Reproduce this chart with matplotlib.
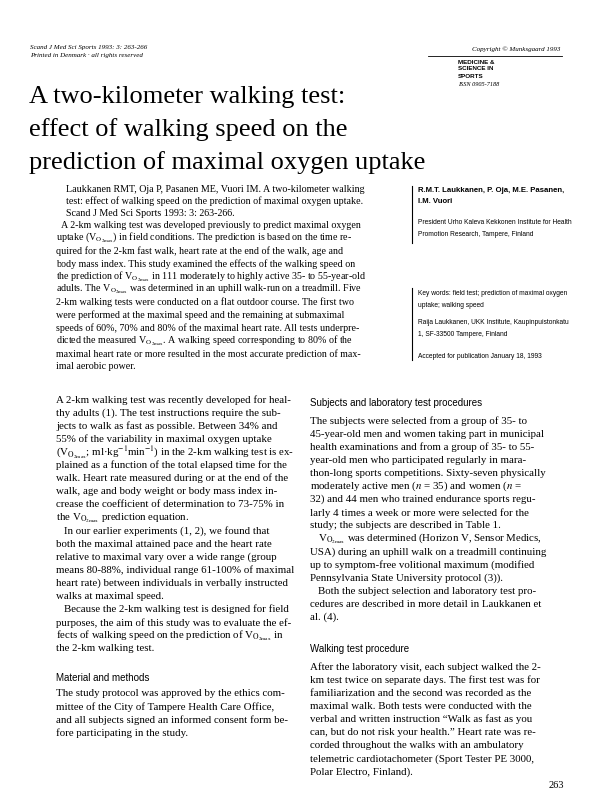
import matplotlib
matplotlib.use("Agg")
import matplotlib.pyplot as plt
from matplotlib.lines import Line2D

plt.rcParams['mathtext.fontset'] = 'stix'
W, H = 594, 792
fig = plt.figure(figsize=(W/100, H/100), dpi=100)
fig.patch.set_facecolor('white')

SERIF = 'Liberation Serif'
SANS = 'Liberation Sans'
V = r'V$_{\mathrm{O_{2max}}}$'

def put(x, y, s, size=7.6, family=SERIF, **kw):
    fig.text(x/W, 1 - y/H, s, fontsize=size, family=family, va='center', ha=kw.pop('ha', 'left'), **kw)

def vline(x, y0, y1, lw=0.8):
    fig.add_artist(Line2D([x/W, x/W], [1-y0/H, 1-y1/H], color='black', lw=lw))

def hline(x0, x1, y, lw=0.8):
    fig.add_artist(Line2D([x0/W, x1/W], [1-y/H, 1-y/H], color='black', lw=lw))

# header
put(30, 47, 'Scand J Med Sci Sports 1993: 3: 263-266', 5, style='italic')
put(30, 55, 'Printed in Denmark · all rights reserved', 5, style='italic')
put(560, 49, 'Copyright © Munksgaard 1993', 5, style='italic', ha='right')
hline(428, 562, 56, 0.6)
put(458, 62, 'MEDICINE &', 4.5, SANS, weight='bold')
put(458, 69, 'SCIENCE IN', 4.5, SANS, weight='bold')
put(458, 76, 'SPORTS', 4.5, SANS, weight='bold')
put(458, 84, 'ISSN 0905-7188', 4.5, style='italic')

title = ['A two-kilometer walking test:', 'effect of walking speed on the',
         'prediction of maximal oxygen uptake']
for i, t in enumerate(title):
    put(29, 97 + 33*i, t, 19)

citation = ['Laukkanen RMT, Oja P, Pasanen ME, Vuori IM. A two-kilometer walking',
            'test: effect of walking speed on the prediction of maximal oxygen uptake.',
            'Scand J Med Sci Sports 1993: 3: 263-266.']
for i, t in enumerate(citation):
    put(66, 189 + 12.2*i, t, 7.2)

abstract = ['A 2-km walking test was developed previously to predict maximal oxygen',
            'uptake (' + V + ') in field conditions. The prediction is based on the time re-',
            'quired for the 2-km fast walk, heart rate at the end of the walk, age and',
            'body mass index. This study examined the effects of the walking speed on',
            'the prediction of ' + V + ' in 111 moderately to highly active 35- to 55-year-old',
            'adults. The ' + V + ' was determined in an uphill walk-run on a treadmill. Five',
            '2-km walking tests were conducted on a flat outdoor course. The first two',
            'were performed at the maximal speed and the remaining at submaximal',
            'speeds of 60%, 70% and 80% of the maximal heart rate. All tests underpre-',
            'dicted the measured ' + V + '. A walking speed corresponding to 80% of the',
            'maximal heart rate or more resulted in the most accurate prediction of max-',
            'imal aerobic power.']
for i, t in enumerate(abstract):
    put(56 if i else 61, 225 + 12.9*i, t, 7.2)

# sidebar
vline(412, 186, 243)
vline(412, 288, 360)
put(418, 190, 'R.M.T. Laukkanen, P. Oja, M.E. Pasanen,', 5.6, SANS, weight='bold')
put(418, 202, 'I.M. Vuori', 5.6, SANS, weight='bold')
put(418, 222, 'President Urho Kaleva Kekkonen Institute for Health', 4.8, SANS)
put(418, 234, 'Promotion Research, Tampere, Finland', 4.8, SANS)
put(418, 293, 'Key words: field test; prediction of maximal oxygen', 4.8, SANS)
put(418, 305, 'uptake; walking speed', 4.8, SANS)
put(418, 322, 'Raija Laukkanen, UKK Institute, Kaupinpuistonkatu', 4.8, SANS)
put(418, 334, '1, SF-33500 Tampere, Finland', 4.8, SANS)
put(418, 356, 'Accepted for publication January 18, 1993', 4.8, SANS)

left = [('A 2-km walking test was recently developed for heal-', 0),
        ('thy adults (1). The test instructions require the sub-', 0),
        ('jects to walk as fast as possible. Between 34% and', 0),
        ('55% of the variability in maximal oxygen uptake', 0),
        ('(' + V + r'; ml·kg$^{-1}$min$^{-1}$) in the 2-km walking test is ex-', 0),
        ('plained as a function of the total elapsed time for the', 0),
        ('walk. Heart rate measured during or at the end of the', 0),
        ('walk, age and body weight or body mass index in-', 0),
        ('crease the coefficient of determination to 73-75% in', 0),
        ('the ' + V + ' prediction equation.', 0),
        ('In our earlier experiments (1, 2), we found that', 8),
        ('both the maximal attained pace and the heart rate', 0),
        ('relative to maximal vary over a wide range (group', 0),
        ('means 80-88%, individual range 61-100% of maximal', 0),
        ('heart rate) between individuals in verbally instructed', 0),
        ('walks at maximal speed.', 0),
        ('Because the 2-km walking test is designed for field', 8),
        ('purposes, the aim of this study was to evaluate the ef-', 0),
        ('fects of walking speed on the prediction of ' + V + ' in', 0),
        ('the 2-km walking test.', 0)]
for i, (t, ind) in enumerate(left):
    put(56 + ind, 400 + 13.1*i, t, 7.85)
put(56, 678, 'Material and methods', 7, SANS)
for i, t in enumerate(['The study protocol was approved by the ethics com-',
                       'mittee of the City of Tampere Health Care Office,',
                       'and all subjects signed an informed consent form be-',
                       'fore participating in the study.']):
    put(56, 694 + 13.1*i, t, 7.85)

put(310, 403, 'Subjects and laboratory test procedures', 7, SANS)
right1 = [('The subjects were selected from a group of 35- to', 0),
          ('45-year-old men and women taking part in municipal', 0),
          ('health examinations and from a group of 35- to 55-', 0),
          ('year-old men who participated regularly in mara-', 0),
          ('thon-long sports competitions. Sixty-seven physically', 0),
          ('moderately active men ($n$ = 35) and women ($n$ =', 0),
          ('32) and 44 men who trained endurance sports regu-', 0),
          ('larly 4 times a week or more were selected for the', 0),
          ('study; the subjects are described in Table 1.', 0),
          (V + ' was determined (Horizon V, Sensor Medics,', 8),
          ('USA) during an uphill walk on a treadmill continuing', 0),
          ('up to symptom-free volitional maximum (modified', 0),
          ('Pennsylvania State University protocol (3)).', 0),
          ('Both the subject selection and laboratory test pro-', 8),
          ('cedures are described in more detail in Laukkanen et', 0),
          ('al. (4).', 0)]
for i, (t, ind) in enumerate(right1):
    put(310 + ind, 421 + 13.1*i, t, 7.85)
put(310, 649, 'Walking test procedure', 7, SANS)
right2 = ['After the laboratory visit, each subject walked the 2-',
          'km test twice on separate days. The first test was for',
          'familiarization and the second was recorded as the',
          'maximal walk. Both tests were conducted with the',
          'verbal and written instruction \u201cWalk as fast as you',
          'can, but do not risk your health.\u201d Heart rate was re-',
          'corded throughout the walks with an ambulatory',
          'telemetric cardiotachometer (Sport Tester PE 3000,',
          'Polar Electro, Finland).']
for i, t in enumerate(right2):
    put(310, 667 + 13.1*i, t, 7.85)

put(564, 785, '263', 7.5, ha='right')

fig.savefig('out.png', dpi=100, facecolor='white')
